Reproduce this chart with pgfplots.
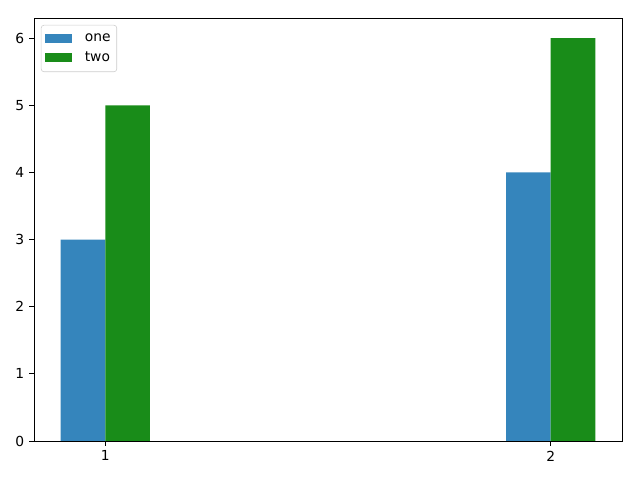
\documentclass[border=0pt]{standalone}
\usepackage{pgfplots}
\pgfplotsset{compat=1.18}
\usepackage{fontspec}
\setmainfont{DejaVu Sans}

\definecolor{barone}{RGB}{53,133,188}
\definecolor{bartwo}{RGB}{25,140,25}
\definecolor{legframe}{RGB}{204,204,204}

\begin{document}
\begin{tikzpicture}[x=1in,y=1in]
  \path[use as bounding box] (0,0) rectangle (6.4,4.8);
  \begin{axis}[
      at={(0.34in,0.39in)}, anchor=south west,
      scale only axis,
      width=5.88in, height=4.23in,
      xmin=0.84, xmax=2.16,
      ymin=0, ymax=6.3,
      xtick={1,2}, ytick={0,1,2,3,4,5,6},
      tick align=outside,
      major tick length=3.5pt,
      tick style={black, line width=0.6pt},
      axis line style={line width=0.6pt},
      xtick pos=bottom, ytick pos=left,
      /pgf/number format/assume math mode=true,
      tick label style={font=\fontsize{10}{12}\selectfont},
      legend style={
        at={(0,1)}, anchor=north west, xshift=5pt, yshift=-5pt,
        draw=legframe, rounded corners=2pt,
        font=\fontsize{10}{12}\selectfont,
        inner xsep=2.5pt, inner ysep=4pt,
        row sep=2pt,
        /tikz/every odd column/.append style={column sep=7pt},
      },
      legend cell align=left,
      legend image code/.code={
        \fill[#1, sharp corners] (0pt,-3.5pt) rectangle (20pt,3.5pt);
      },
    ]
    \addplot[ybar, bar width=0.1, bar shift=-0.05, fill=barone, draw=none]
      coordinates {(1,3) (2,4)};
    \addlegendentry{one}
    \addplot[ybar, bar width=0.1, bar shift=0.05, fill=bartwo, draw=none]
      coordinates {(1,5) (2,6)};
    \addlegendentry{two}
  \end{axis}
\end{tikzpicture}
\end{document}
